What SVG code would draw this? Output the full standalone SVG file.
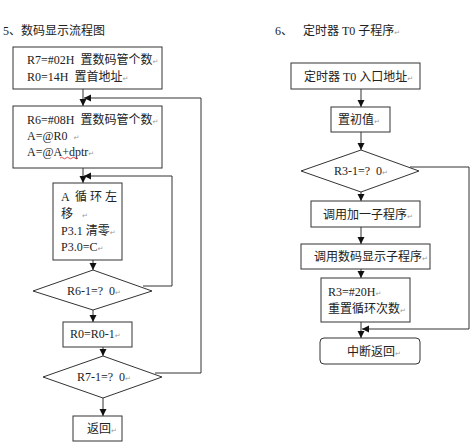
<svg xmlns="http://www.w3.org/2000/svg" width="474" height="445" viewBox="0 0 474 445">
<style>
.t{font-family:"Liberation Serif","Noto Sans CJK SC",serif;font-size:12px;fill:#222;white-space:pre}
.p{font-family:"DejaVu Sans",sans-serif;font-size:7px;fill:#999}
.b{fill:#fff;stroke:#333;stroke-width:1}
.c{fill:none;stroke:#333;stroke-width:1}
</style>
<defs>
<marker id="ah" markerUnits="userSpaceOnUse" markerWidth="8" markerHeight="8" refX="7" refY="4" orient="auto">
<path d="M0,0.5 L7,4 L0,7.5 Z" fill="#111"/>
</marker>
</defs>
<rect width="474" height="445" fill="#fff"/>
<g id="titles">
<text class="t" x="3" y="35">5、数码显示流程图</text>
<text class="t" x="275" y="35">6、</text>
<text class="t" x="303" y="35">定时器 T0 子程序<tspan class="p">↵</tspan></text>
</g>
<g id="connectors">
<path class="c" d="M83,89 V106" marker-end="url(#ah)"/>
<path class="c" d="M155,373 H201 V98 H84" marker-end="url(#ah)"/>
<path class="c" d="M83,168 V183" marker-end="url(#ah)"/>
<path class="c" d="M143,286 H172 V176 H84" marker-end="url(#ah)"/>
<path class="c" d="M93,260 V270" marker-end="url(#ah)"/>
<path class="c" d="M93,310 V322" marker-end="url(#ah)"/>
<path class="c" d="M103,347 V356" marker-end="url(#ah)"/>
<path class="c" d="M103,398 V416" marker-end="url(#ah)"/>
<path class="c" d="M361,89 V107" marker-end="url(#ah)"/>
<path class="c" d="M361,132 V150" marker-end="url(#ah)"/>
<path class="c" d="M361,192 V201" marker-end="url(#ah)"/>
<path class="c" d="M361,227 V244" marker-end="url(#ah)"/>
<path class="c" d="M361,269 V278" marker-end="url(#ah)"/>
<path class="c" d="M361,322 V338" marker-end="url(#ah)"/>
<path class="c" d="M410,167 H469 V329 H362" marker-end="url(#ah)"/>
</g>
<g id="n1">
<rect class="b" x="13" y="47" width="149" height="42"/>
<text class="t" x="27" y="64">R7=#02H  置数码管个数<tspan class="p">↵</tspan></text>
<text class="t" x="27" y="81">R0=14H  置首地址<tspan class="p">↵</tspan></text>
</g>
<g id="n2">
<rect class="b" x="13" y="106" width="149" height="62"/>
<text class="t" x="27" y="124">R6=#08H  置数码管个数<tspan class="p">↵</tspan></text>
<text class="t" x="27" y="140">A=@R0  <tspan class="p">↵</tspan></text>
<text class="t" x="27" y="156">A=@A+dptr<tspan class="p">↵</tspan></text>
<path d="M60,158 q1.5,-1.5 3,0 t3,0 t3,0 t3,0 t3,0 t3,0" fill="none" stroke="#d22" stroke-width="0.8"/>
</g>
<g id="n3">
<rect class="b" x="53" y="183" width="69" height="77"/>
<text class="t" x="61" y="201">A  循 环 左</text>
<text class="t" x="61" y="218">移   <tspan class="p">↵</tspan></text>
<text class="t" x="61" y="235">P3.1 清零<tspan class="p">↵</tspan></text>
<text class="t" x="61" y="251">P3.0=C<tspan class="p">↵</tspan></text>
</g>
<g id="n4">
<path class="b" d="M93,270 L152,291 L93,310 L33,291 Z"/>
<text class="t" x="67" y="295">R6-1=?  0<tspan class="p">↵</tspan></text>
</g>
<g id="n5">
<rect class="b" x="63" y="322" width="69" height="25"/>
<text class="t" x="70" y="338">R0=R0-1<tspan class="p">↵</tspan></text>
</g>
<g id="n6">
<path class="b" d="M103,356 L162,377 L103,398 L43,377 Z"/>
<text class="t" x="77" y="381">R7-1=?  0<tspan class="p">↵</tspan></text>
</g>
<g id="n7">
<rect class="b" x="73" y="416" width="49" height="25"/>
<text class="t" x="87" y="433">返回<tspan class="p">↵</tspan></text>
</g>
<g id="m1">
<rect class="b" x="291" y="63" width="129" height="26"/>
<text class="t" x="304" y="81">定时器 T0 入口地址<tspan class="p">↵</tspan></text>
</g>
<g id="m2">
<rect class="b" x="331" y="107" width="59" height="25"/>
<text class="t" x="338" y="124">置初值<tspan class="p">↵</tspan></text>
</g>
<g id="m3">
<path class="b" d="M361,150 L419,171 L361,192 L301,171 Z"/>
<text class="t" x="334" y="175">R3-1=?  0<tspan class="p">↵</tspan></text>
</g>
<g id="m4">
<rect class="b" x="311" y="201" width="109" height="26"/>
<text class="t" x="323" y="219">调用加一子程序<tspan class="p">↵</tspan></text>
</g>
<g id="m5">
<rect class="b" x="301" y="244" width="129" height="25"/>
<text class="t" x="314" y="261">调用数码显示子程序<tspan class="p">↵</tspan></text>
</g>
<g id="m6">
<rect class="b" x="321" y="278" width="89" height="44"/>
<text class="t" x="328" y="296">R3=#20H<tspan class="p">↵</tspan></text>
<text class="t" x="328" y="313">重置循环次数<tspan class="p">↵</tspan></text>
</g>
<g id="m7">
<rect class="b" x="320" y="338" width="100" height="26" rx="4"/>
<text class="t" x="347" y="356">中断返回<tspan class="p">↵</tspan></text>
</g>
</svg>
